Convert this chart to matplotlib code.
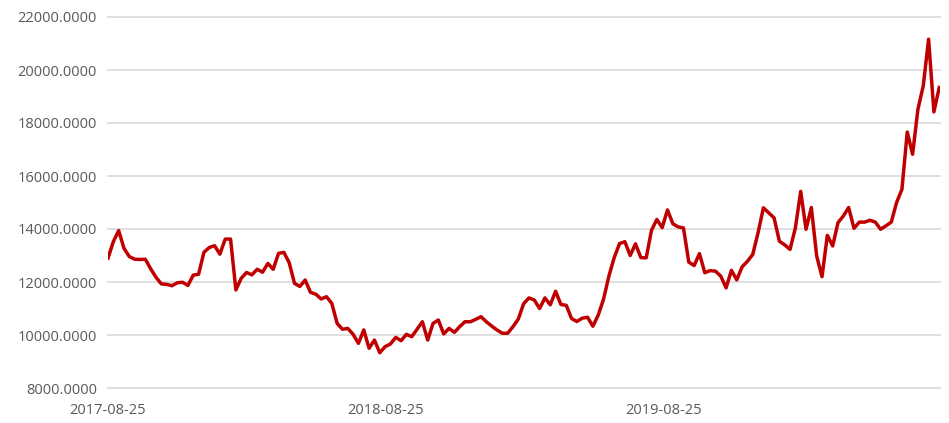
import matplotlib
matplotlib.use("Agg")
import matplotlib.pyplot as plt
import matplotlib.dates as mdates
import pandas as pd
import numpy as np

start_date = "2017-08-25"
tick_dates = ["2017-08-25", "2018-08-25", "2019-08-25"]
y_ticks = [8000, 10000, 12000, 14000, 16000, 18000, 20000, 22000]

values = [
    12900, 13520, 13940, 13270, 12960, 12860, 12850, 12860, 12500, 12180,
    11930, 11910, 11860, 11970, 11990, 11870, 12260, 12290, 13120, 13300,
    13370, 13050, 13620, 13620, 11700, 12140, 12360, 12270, 12480, 12370,
    12700, 12480, 13080, 13120, 12730, 11950, 11830, 12075, 11610, 11540,
    11360, 11445, 11195, 10440, 10215, 10250, 10025, 9685, 10190, 9500,
    9810, 9330, 9560, 9660, 9910, 9785, 10025, 9935, 10220, 10500,
    9810, 10440, 10565, 10040, 10250, 10100, 10315, 10500, 10500, 10590,
    10690, 10500, 10340, 10190, 10065, 10065, 10315, 10600, 11180, 11400,
    11320, 11000, 11400, 11140, 11650, 11150, 11120, 10620, 10510, 10635,
    10670, 10330, 10750, 11350, 12220, 12920, 13450, 13520, 13000, 13440,
    12920, 12910, 13950, 14360, 14050, 14720, 14200, 14080, 14040, 12750,
    12620, 13070, 12350, 12430, 12410, 12220, 11780, 12440, 12080, 12570,
    12780, 13040, 13860, 14800, 14610, 14420, 13540, 13400, 13230, 14040,
    15420, 13990, 14810, 12980, 12200, 13760, 13360, 14240, 14490, 14810,
    14025, 14260, 14260, 14330, 14260, 13990, 14120, 14260, 15000, 15500,
    17660, 16820, 18520, 19400, 21160, 18420, 19340,
]

dates = pd.date_range(start_date, periods=len(values), freq="7D")

plt.rcParams['font.family'] = ['Open Sans', 'DejaVu Sans']

fig = plt.figure(figsize=(9.49, 4.23), dpi=100)
ax = fig.add_axes([108/949, 1-388/423, (940-108)/949, (388-17)/423])

ax.plot(dates, values, color="#C00000", linewidth=2.5, solid_joinstyle="round")

ax.set_ylim(8000, 22000)
ax.set_yticks(y_ticks)
ax.yaxis.set_major_formatter(matplotlib.ticker.FormatStrFormatter("%.4f"))
ax.set_xlim(pd.Timestamp(start_date), dates[-1] + pd.Timedelta(days=1))
ax.set_xticks([pd.Timestamp(d) for d in tick_dates])
ax.xaxis.set_major_formatter(mdates.DateFormatter("%Y-%m-%d"))

ax.grid(axis="y", color="#D9D9D9", linewidth=1.2)
for gl in ax.get_ygridlines():
    gl.set_clip_on(False)
ax.set_axisbelow(True)
for s in ax.spines.values():
    s.set_visible(False)
ax.tick_params(axis="both", length=0, labelsize=10.5, labelcolor="#595959")
ax.tick_params(axis="y", pad=8)
ax.tick_params(axis="x", pad=11)

fig.savefig("out.png", dpi=100)
